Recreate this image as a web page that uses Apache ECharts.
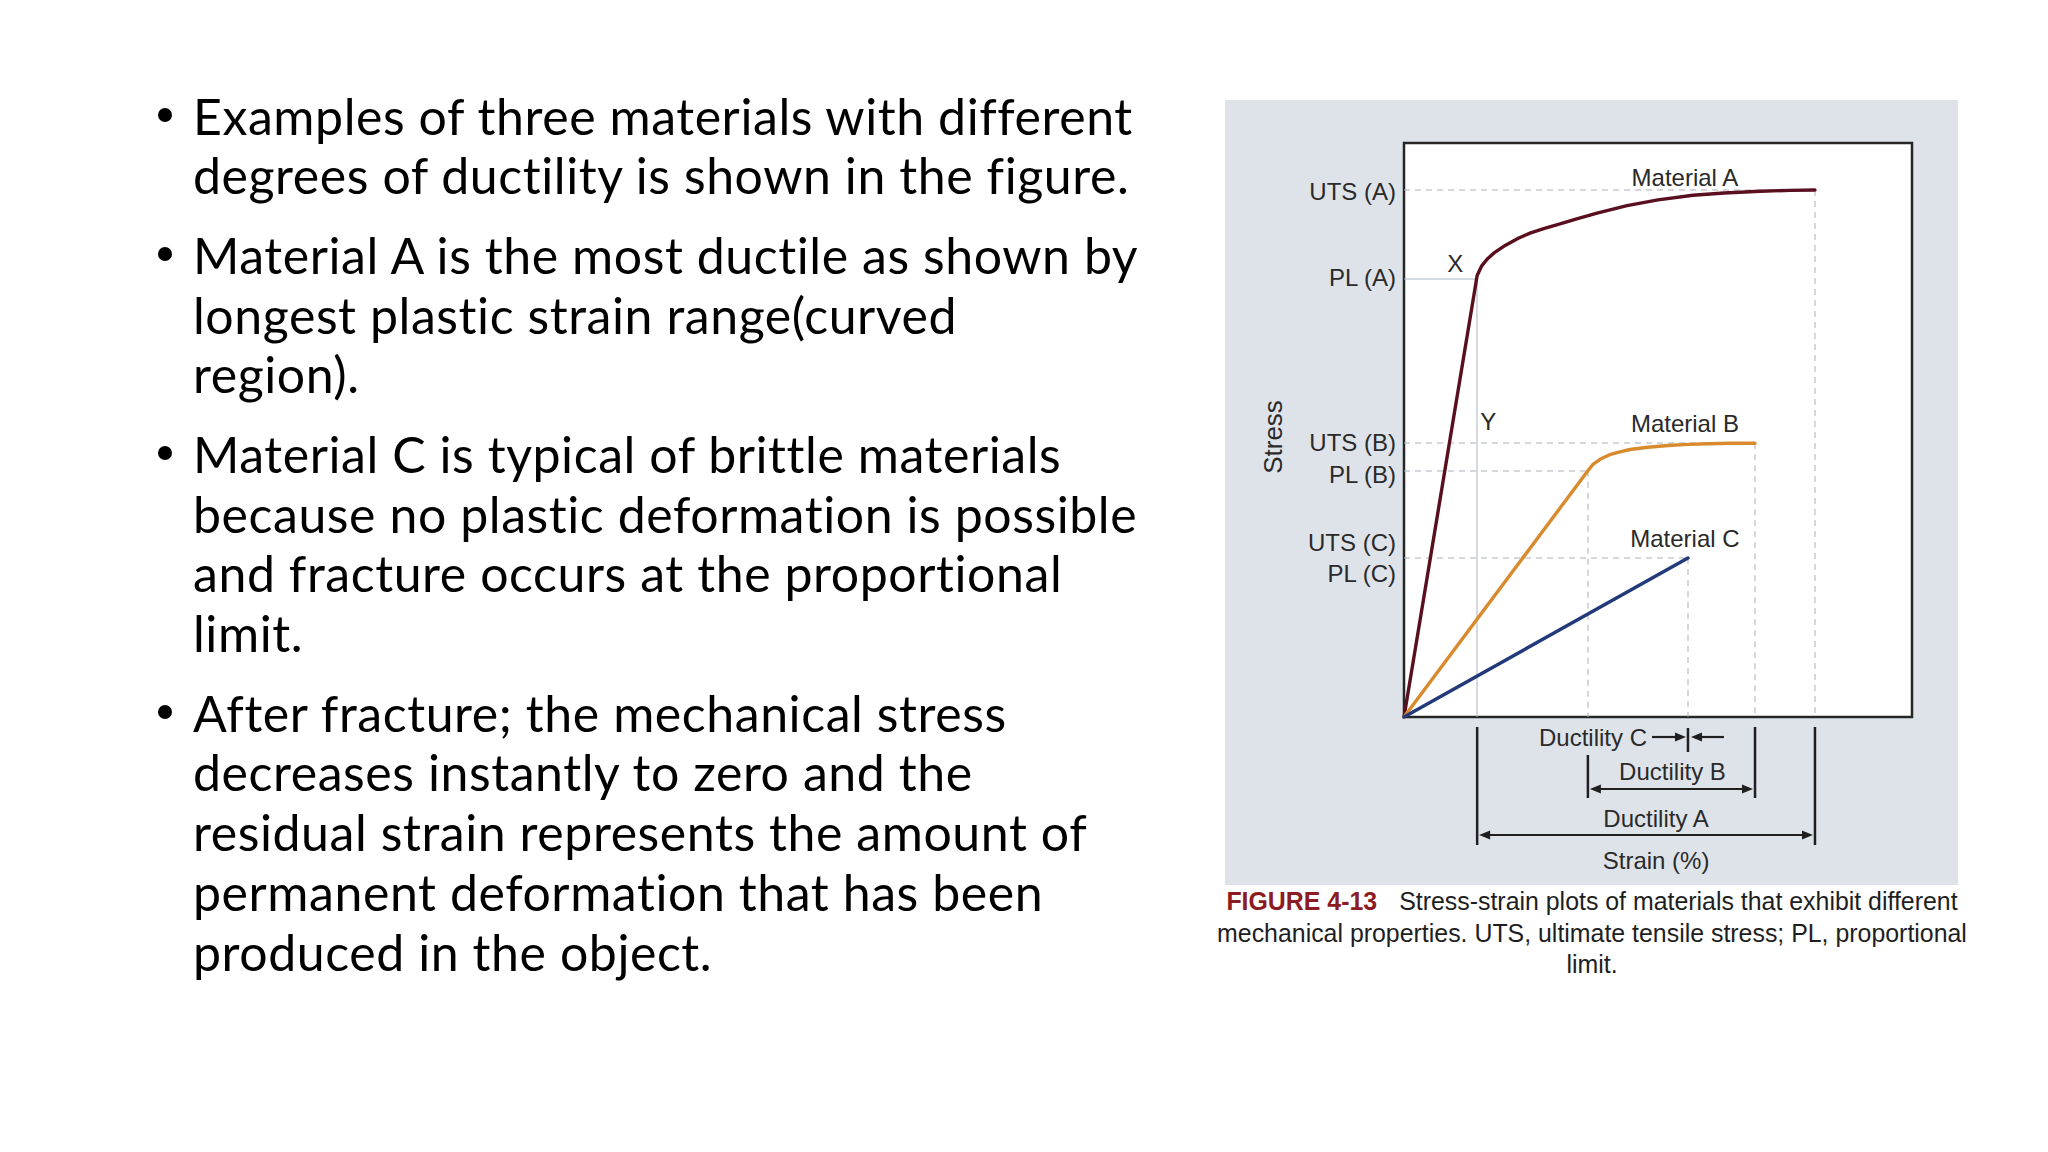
<!DOCTYPE html>
<html>
<head>
<meta charset="utf-8">
<script src="https://cdn.jsdelivr.net/npm/echarts@6.0.0/dist/echarts.min.js"></script>
<style>
  html, body { margin: 0; padding: 0; background: #ffffff; }
  #page { position: relative; width: 2048px; height: 1152px; overflow: hidden; background: #ffffff; }
  #chart { position: absolute; left: 0; top: 0; width: 2048px; height: 1152px; }
  .bl { position: absolute; white-space: nowrap; font-family: Lato, "Noto Sans", sans-serif; font-size: 50px; letter-spacing: 0.57px; line-height: 60px; height: 60px; color: #000; }
  .dot { position: absolute; width: 14px; height: 14px; border-radius: 50%; background: #000; }
  .cap { position: absolute; left: 1142px; width: 900px; text-align: center; white-space: nowrap; font-family: "Liberation Sans", Arial, sans-serif; font-size: 24.9px; line-height: 30px; height: 30px; color: #1e1e1e; }
  .cap b { color: #8c1b22; font-weight: bold; margin-right: 22px; }
</style>
</head>
<body>
<div id="page">
  <div id="chart"></div>
</div>
<script>
// ---------------- data ----------------
const bulletParagraphs = [
  ['Examples of three materials with different', 'degrees of ductility is shown in the figure.'],
  ['Material A is the most ductile as shown by', 'longest plastic strain range(curved', 'region).'],
  ['Material C is typical of brittle materials', 'because no plastic deformation is possible', 'and fracture occurs at the proportional', 'limit.'],
  ['After fracture; the mechanical stress', 'decreases instantly to zero and the', 'residual strain represents the amount of', 'permanent deformation that has been', 'produced in the object.']
];
const captionLead = 'FIGURE 4-13';
const captionLines = ['Stress-strain plots of materials that exhibit different', 'mechanical properties. UTS, ultimate tensile stress; PL, proportional', 'limit.'];

const materialNames = ['Material A', 'Material B', 'Material C'];
// stress-strain curves [strain, stress] (arbitrary 0-100 units)
const materialA = [[0, 0], [14.4, 76.9], [15.3, 78.6], [16.4, 79.8], [17.8, 80.9], [20, 82.2], [22.5, 83.4], [24.8, 84.3], [27.5, 85.1], [30.7, 85.9], [34, 86.8], [38, 87.8], [43.9, 89.1], [50, 90.1], [56.9, 90.9], [63, 91.3], [70.1, 91.6], [76, 91.75], [80.9, 91.8]];
const materialB = [[0, 0], [36.2, 42.9], [37.2, 44.0], [38.6, 44.9], [40.5, 45.7], [42.5, 46.2], [44.5, 46.6], [48, 47.0], [52, 47.3], [56, 47.5], [60, 47.6], [64.2, 47.7], [69.1, 47.7]];
const materialC = [[0, 0], [55.9, 27.7]];

const limitLabels = ['UTS (A)', 'PL (A)', 'UTS (B)', 'PL (B)', 'UTS (C)', 'PL (C)'];
const limitStress = [91.8, 76.4, 47.7, 42.9, 27.7, 27.7];
const utsStress = [91.8, 47.7, 27.7];
const plStress = [76.4, 42.9, 27.7];
const plStrain = [14.4, 36.2, 55.9];
const fractureStrain = [80.9, 69.1, 55.9];
const ductilityLabels = ['Ductility A', 'Ductility B', 'Ductility C'];
const axisNames = { x: 'Strain (%)', y: 'Stress' };
const pointLabels = ['X', 'Y'];

// ---------------- layout / style ----------------
const GRID = { left: 1404, top: 143, width: 508, height: 574 };
const PANEL = { x: 1225, y: 100, w: 733, h: 785, fill: '#dee3ea' };
const colors = ['#5a0f1e', '#d98a2c', '#22397a'];
const FONT = '"Liberation Sans", Arial, sans-serif';
const labelDy = [1, -1, -1, 4, -16, 15];
const ink = '#2a2a2a';

// ---------------- left text (HTML) ----------------
const page = document.getElementById('page');
(function () {
  const lineH = 59.8, paraGap = 19.6, baselineOff = 49.4;
  let base = 135;
  bulletParagraphs.forEach((para) => {
    const dot = document.createElement('div');
    dot.className = 'dot';
    dot.style.left = (165 - 7) + 'px';
    dot.style.top = (base - 20 - 7) + 'px';
    page.appendChild(dot);
    para.forEach((line, li) => {
      const d = document.createElement('div');
      d.className = 'bl';
      d.textContent = line;
      d.style.left = '193px';
      d.style.top = (base - baselineOff) + 'px';
      page.appendChild(d);
      if (li < para.length - 1) base += lineH;
    });
    base += lineH + paraGap;
  });
  // caption
  const capBase = [910, 941.5, 973];
  captionLines.forEach((line, i) => {
    const d = document.createElement('div');
    d.className = 'cap';
    d.style.top = (capBase[i] - 23.6) + 'px';
    if (i === 0) {
      const b = document.createElement('b');
      b.textContent = captionLead;
      d.appendChild(b);
      d.appendChild(document.createTextNode(line));
    } else {
      d.textContent = line;
    }
    page.appendChild(d);
  });
})();

// ---------------- chart ----------------
const chart = echarts.init(document.getElementById('chart'), null, { renderer: 'svg', width: 2048, height: 1152 });

const dashStyle = { color: '#aab1ba', width: 2, type: [6, 5] };
const solidGuide = { color: '#a9b6c2', width: 2, type: 'solid' };
const dashedSegs = [];
for (let i = 0; i < 3; i++) {
  dashedSegs.push({ coords: [[0, utsStress[i]], [fractureStrain[i], utsStress[i]]] });
  dashedSegs.push({ coords: [[fractureStrain[i], utsStress[i]], [fractureStrain[i], 0]] });
}
dashedSegs.push({ coords: [[0, plStress[1]], [plStrain[1], plStress[1]]] });
dashedSegs.push({ coords: [[plStrain[1], plStress[1]], [plStrain[1], 0]] });
const solidSegs = [
  { coords: [[0, plStress[0]], [plStrain[0], plStress[0]]] },
  { coords: [[plStrain[0], plStress[0]], [plStrain[0], 0]] }
];

const curveSeries = [materialA, materialB, materialC].map((d, i) => ({
  name: materialNames[i], type: 'line', data: d, showSymbol: false, smooth: false,
  lineStyle: { color: colors[i], width: 3.4, cap: 'round', join: 'round' }, z: 5, silent: true
}));

chart.setOption({
  animation: false,
  grid: { left: GRID.left, top: GRID.top, width: GRID.width, height: GRID.height, show: true, backgroundColor: '#ffffff', borderColor: '#262626', borderWidth: 2.5 },
  xAxis: { type: 'value', min: 0, max: 100, show: false },
  yAxis: { type: 'value', min: 0, max: 100, show: false },
  series: [
    { type: 'lines', coordinateSystem: 'cartesian2d', data: dashedSegs, lineStyle: dashStyle, z: 3, silent: true },
    { type: 'lines', coordinateSystem: 'cartesian2d', data: solidSegs, lineStyle: solidGuide, z: 3, silent: true }
  ].concat(curveSeries)
});

const px = v => chart.convertToPixel({ gridIndex: 0 }, [v, 0])[0];
const py = v => chart.convertToPixel({ gridIndex: 0 }, [0, v])[1];

function txt(s, x, y, align, size, extra) {
  return Object.assign({
    type: 'text', x: x, y: y, z: 20, silent: true,
    style: { text: s, fill: ink, font: size + 'px ' + FONT, align: align, textAlign: align, verticalAlign: 'middle', textVerticalAlign: 'middle' }
  }, extra || {});
}
function seg(x1, y1, x2, y2, w) {
  return { type: 'line', z: 20, silent: true, shape: { x1: x1, y1: y1, x2: x2, y2: y2 }, style: { stroke: '#1f1f1f', lineWidth: w || 2.5 } };
}
function head(xTip, y, dir) {
  const L = 11, H = 4.5;
  return { type: 'polygon', z: 21, silent: true, shape: { points: [[xTip, y], [xTip - dir * L, y - H], [xTip - dir * L, y + H]] }, style: { fill: '#1f1f1f' } };
}

const G = [];
G.push({ type: 'rect', z: -10, silent: true, shape: { x: PANEL.x, y: PANEL.y, width: PANEL.w, height: PANEL.h }, style: { fill: PANEL.fill } });

const plotL = px(0), plotB = py(0);
// y-limit labels
limitLabels.forEach((l, i) => G.push(txt(l, plotL - 8, py(limitStress[i]) + labelDy[i], 'right', 24)));
// axis name Stress
G.push(txt(axisNames.y, 1273, (py(0) + py(100)) / 2 + 7, 'center', 26, { rotation: Math.PI / 2 }));
// X and Y point labels
G.push(txt(pointLabels[0], px(plStrain[0]) - 22, py(plStress[0]) - 15, 'center', 24));
G.push(txt(pointLabels[1], px(plStrain[0]) + 11, py(utsStress[1]) - 22, 'center', 24));
// material labels
G.push(txt(materialNames[0], px(55.3), py(utsStress[0]) - 13, 'center', 24));
G.push(txt(materialNames[1], px(55.3), py(utsStress[1]) - 20, 'center', 24));
G.push(txt(materialNames[2], px(55.3), py(utsStress[2]) - 20, 'center', 24));

// ductility dimension annotations
const xA0 = px(plStrain[0]), xA1 = px(fractureStrain[0]);
const xB0 = px(plStrain[1]), xB1 = px(fractureStrain[1]);
const xC = px(fractureStrain[2]);
G.push(seg(xA0, plotB + 10, xA0, plotB + 128));
G.push(seg(xA1, plotB + 10, xA1, plotB + 128));
G.push(seg(xB1, plotB + 10, xB1, plotB + 81));
G.push(seg(xB0, plotB + 38, xB0, plotB + 81));
G.push(seg(xC, plotB + 11, xC, plotB + 35));
// Ductility A arrow
const yA = plotB + 118;
G.push(seg(xA0 + 8, yA, xA1 - 8, yA, 2.2), head(xA0 + 2, yA, -1), head(xA1 - 2, yA, 1));
// Ductility B arrow
const yB = plotB + 72;
G.push(seg(xB0 + 8, yB, xB1 - 8, yB, 2.2), head(xB0 + 2, yB, -1), head(xB1 - 2, yB, 1));
// Ductility C arrows
const yC = plotB + 20;
G.push(seg(xC - 36, yC, xC - 8, yC, 2.2), head(xC - 2, yC, 1));
G.push(seg(xC + 36, yC, xC + 9, yC, 2.2), head(xC + 3, yC, -1));
// texts
G.push(txt(ductilityLabels[2], xC - 41, yC, 'right', 24));
G.push(txt(ductilityLabels[1], (xB0 + xB1) / 2 + 1, plotB + 54, 'center', 24));
G.push(txt(ductilityLabels[0], (xA0 + xA1) / 2 + 10, plotB + 101, 'center', 24));
G.push(txt(axisNames.x, (xA0 + xA1) / 2 + 10, plotB + 143, 'center', 24));

chart.setOption({ graphic: { elements: G } });
</script>
</body>
</html>
